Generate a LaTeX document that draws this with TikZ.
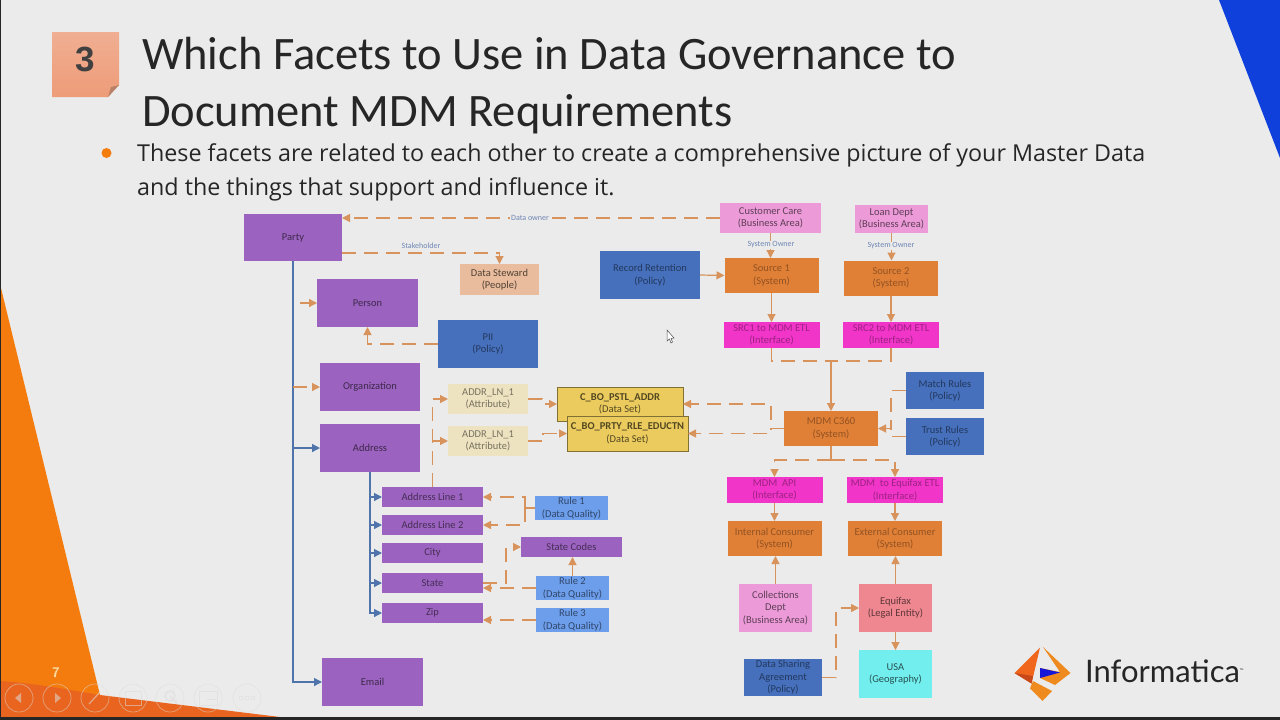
\documentclass[tikz,border=0pt]{standalone}
\usepackage{fontspec}
\setmainfont{Carlito}
\newfontfamily\slidefont{Open Sans}
\newfontfamily\logofont{Lato}
\newfontfamily\numfont{Liberation Sans}
\usetikzlibrary{positioning,arrows.meta}
\definecolor{slidebg}{HTML}{EBEBEB}
\definecolor{cornerorange}{HTML}{F47C0E}
\definecolor{cornerdark}{HTML}{E9651F}
\definecolor{cornerblue}{HTML}{1040DC}
\definecolor{numtop}{HTML}{F0AE92}
\definecolor{numbottom}{HTML}{EE9C78}
\definecolor{numfold}{HTML}{B98068}
\definecolor{navring}{HTML}{DCDCDC}
\definecolor{pagecolor}{HTML}{F8D9A0}
\definecolor{logoleft}{HTML}{F0661C}
\definecolor{logosliver}{HTML}{C9481A}
\definecolor{logoright}{HTML}{EE8A1E}
\definecolor{logoblue}{HTML}{1616D8}
\definecolor{linkorange}{HTML}{D8935C}
\definecolor{linkblue}{HTML}{4F74AC}
\definecolor{wordblue}{HTML}{6F86B4}
\definecolor{facetpurple}{HTML}{9B63BF}
\definecolor{facetpolicy}{HTML}{4670BC}
\definecolor{facetorange}{HTML}{E07F36}
\definecolor{facetpink}{HTML}{EC9BD8}
\definecolor{facetmagenta}{HTML}{F035C8}
\definecolor{facetpeach}{HTML}{E8BC9C}
\definecolor{facetcream}{HTML}{EDE3C0}
\definecolor{facetyellow}{HTML}{EBCB5E}
\definecolor{facetrule}{HTML}{6D9EEB}
\definecolor{facetlegal}{HTML}{EE8790}
\definecolor{facetgeo}{HTML}{72EEEE}
\tikzset{
  facet/.style={draw=none, outer sep=0pt, inner sep=0pt, align=center,
    font=\fontsize{10.5}{12.5}\selectfont},
  party/.style={facet, fill=facetpurple, text=black!60!facetpurple,
    minimum width=101pt, minimum height=48pt},
  subparty/.style={facet, fill=facetpurple, text=black!55!facetpurple,
    minimum width=101pt, minimum height=20pt},
  policy/.style={facet, fill=facetpolicy, text=black!50!facetpolicy,
    minimum width=100pt, minimum height=48pt},
  smallpolicy/.style={policy, minimum width=78pt, minimum height=37pt},
  system/.style={facet, fill=facetorange, text=black!35!facetorange,
    minimum width=94pt, minimum height=35pt},
  interface/.style={facet, fill=facetmagenta, text=black!35!facetmagenta,
    minimum width=96pt, minimum height=26pt},
  area/.style={facet, fill=facetpink, text=black!60!facetpink,
    minimum width=73pt, minimum height=28pt},
  attribute/.style={facet, fill=facetcream, text=black!50!facetcream,
    minimum width=80pt, minimum height=30pt},
  dataset/.style={facet, fill=facetyellow, draw=black!45!facetyellow, text=black!65!facetyellow,
    line width=.6pt},
  dqrule/.style={facet, fill=facetrule, text=black!55!facetrule,
    minimum width=73pt, minimum height=24pt},
  link/.style={draw=linkorange, line width=1.2pt, dash pattern=on 14pt off 8pt,
    -{Triangle[length=8pt,width=8pt,fill=linkorange]}},
  plainlink/.style={draw=linkorange, line width=1.2pt, dash pattern=on 14pt off 8pt},
  solidlink/.style={draw=linkorange, line width=1.2pt,
    -{Triangle[length=8pt,width=8pt,fill=linkorange]}},
  treelink/.style={draw=linkblue, line width=1.2pt,
    -{Triangle[length=8pt,width=8pt,fill=linkblue]}},
  linkword/.style={fill=slidebg, text=wordblue, inner sep=1pt, font=\fontsize{8}{9}\selectfont},
  navbutton/.style={circle, draw=navring, opacity=.5, line width=.7pt,
    minimum size=28pt, inner sep=0pt},
  navicon/.style={navring, opacity=.55},
}
\begin{document}
\begin{tikzpicture}[x=1pt, y=-1pt]
      \useasboundingbox (0,0) rectangle (1280,720);
      \fill[slidebg] (0,0) rectangle (1280,720);

      % slide furniture
      \fill[cornerorange] (1,288) -- (100,695) -- (100,716.5) -- (1,716.5) -- cycle;
      \fill[cornerdark] (1,681) .. controls (40,684) and (70,690) .. (100,695)
        -- (280,717) -- (1,717) -- cycle;
      \fill[black!85] (0,717) rectangle (1280,720);
      \fill[black!85] (0,0) rectangle (1,720);
      \fill[cornerblue] (1219,0) -- (1280,158) -- (1280,0) -- cycle;

      \shade[top color=numtop, bottom color=numbottom]
        (52,32) -- (119,32) -- (119,85) -- (108,97) -- (52,97) -- cycle;
      \fill[numfold] (119,85) -- (108,97) -- (111,87) -- cycle;
      \node[font=\numfont\bfseries\fontsize{35}{35}\selectfont, text=black!75] (num) at (85,59) {3};
      \node[anchor=west, inner sep=0pt, text=black!85,
        font=\fontsize{46.5}{48}\selectfont] (title1) at (142,54) {Which Facets to Use in Data Governance to};
      \node[anchor=west, inner sep=0pt, text=black!85,
        font=\fontsize{46.5}{48}\selectfont] (title2) at (142,114) {Document MDM Requirements};
      \fill[cornerorange] (106.5,153) circle (5pt);
      \node[anchor=west, inner sep=0pt, text=black!85,
        font=\slidefont\fontsize{23.3}{26}\selectfont] (body1) at (137,155)
        {These facets are related to each other to create a comprehensive picture of your Master Data};
      \node[anchor=west, inner sep=0pt, text=black!85,
        font=\slidefont\fontsize{23.3}{26}\selectfont] (body2) at (137,189)
        {and the things that support and influence it.};

      \node[anchor=west, inner sep=0pt, text=pagecolor,
        font=\sffamily\bfseries\fontsize{14}{14}\selectfont] (pagenum) at (52,673) {7};
      \foreach \navx in {19,57,95,133,170,208,247} {
        \node[navbutton] (nav\navx) at (\navx,698) {};
      }
      \fill[navicon] (15,698) -- (21,693) -- (21,703) -- cycle;
      \fill[navicon] (61,698) -- (55,693) -- (55,703) -- cycle;
      \draw[navicon, line width=1.3pt] (89,704) -- (100,692);
      \draw[navicon, line width=1pt] (125,691) rectangle (141,705);
      \draw[navicon, line width=1.5pt] (170,696) circle (5pt) -- (177,703);
      \draw[navicon, line width=1pt] (199,691) rectangle (217,705) (207,699) -- (217,699);
      \draw[navicon, line width=.8pt] (241,698) circle (2pt) (247,698) circle (2pt) (253,698) circle (2pt);

      % left tree
      \node[party, minimum width=98pt, minimum height=47pt] (party) at (293,237.5) {Party};
      \node[party] (person) at (367.5,303) {Person};
      \node[party, minimum width=100pt] (org) at (370,387) {Organization};
      \node[party, minimum width=100pt] (address) at (370,448) {Address};
      \node[party] (email) at (372.5,682) {Email};
      \node[facet, fill=facetpeach, text=black!65!facetpeach, minimum width=79pt, minimum height=31pt]
        (steward) at (499.5,279.5) {Data Steward\\(People)};
      \node[policy] (pii) at (488,344) {PII\\(Policy)};

      \node[subparty] (line1) at (432.5,497) {Address Line 1};
      \node[subparty, below=8pt of line1] (line2) {Address Line 2};
      \node[subparty, below=8pt of line2] (city) {City};
      \node[subparty, below=10pt of city] (state) {State};
      \node[subparty, below=10pt of state] (zip) {Zip};

      \node[dqrule] (rule1) at (571.5,508) {Rule 1\\(Data Quality)};
      \node[subparty] (codes) at (571.5,547) {State Codes};
      \node[dqrule] (rule2) at (572.5,588) {Rule 2\\(Data Quality)};
      \node[dqrule] (rule3) at (572.5,620) {Rule 3\\(Data Quality)};

      \node[attribute] (addr1) at (488,399) {ADDR\_LN\_1\\(Attribute)};
      \node[attribute, below=12pt of addr1] (addr2) {ADDR\_LN\_1\\(Attribute)};
      \node[dataset, minimum width=126pt, minimum height=34pt] (pstl) at (620,404)
        {\textbf{C\_BO\_PSTL\_ADDR}\\(Data Set)};
      \node[dataset, minimum width=121pt, minimum height=35pt] (prty) at (627.5,433.5)
        {\textbf{C\_BO\_PRTY\_RLE\_EDUCTN}\\(Data Set)};

      % right columns
      \node[area, minimum width=101pt, minimum height=30pt] (care) at (770.5,218) {Customer Care\\(Business Area)};
      \node[area] (loan) at (891.5,219) {Loan Dept\\(Business Area)};
      \node[policy] (retention) at (650,275) {Record Retention\\(Policy)};
      \node[system] (source1) at (771.5,275.5) {Source 1\\(System)};
      \node[system] (source2) at (891,278) {Source 2\\(System)};
      \node[interface] (src1) at (771.5,335) {SRC1 to MDM ETL\\(Interface)};
      \node[interface] (src2) at (891,335) {SRC2 to MDM ETL\\(Interface)};
      \node[system] (mdm) at (831,428.5) {MDM C360\\(System)};
      \node[smallpolicy] (match) at (945,390.5) {Match Rules\\(Policy)};
      \node[smallpolicy] (trust) at (945,436.5) {Trust Rules\\(Policy)};
      \node[interface] (api) at (774.5,490) {MDM\ \ API\\(Interface)};
      \node[interface] (etl) at (895,490) {MDM\ \ to Equifax ETL\\(Interface)};
      \node[system, below=18pt of api] (internal) {Internal Consumer\\(System)};
      \node[system, below=18pt of etl] (external) {External Consumer\\(System)};
      \node[area, minimum height=48pt] (collect) at (775.5,608) {Collections\\Dept\\(Business Area)};
      \node[area, fill=facetlegal, text=black!60!facetlegal, minimum height=48pt] (equifax) at (895.5,608)
        {Equifax\\(Legal Entity)};
      \node[area, fill=facetgeo, text=black!65!facetgeo, minimum height=48pt] (usa) at (895.5,674)
        {USA\\(Geography)};
      \node[smallpolicy] (sharing) at (783,677.5) {Data Sharing\\Agreement\\(Policy)};

      \coordinate (stake) at (342,253);
      \coordinate (srcjoin) at (831,361);
      \coordinate (outjoin) at (831,460);
      \coordinate (rulesjoin) at (891,428.5);
      \coordinate (dqjoin) at (525,508);
      \coordinate (personstub) at (300,303);

      \draw[treelink] (party.south) |- (email.west);
      \draw[treelink] (party.south |- address.west) -- (address.west);
      \draw[link] (personstub) -- (person.west);
      \draw[link] (party.south |- org.west) -- (org.west);
      \draw[link] (care.west) -- (care.west -| party.east);
      \node[linkword] (ownerword) at (530,218) {Data owner};
      \draw[link] (stake) -| (steward.north);
      \node[linkword, fill=none] (stakeword) at (421,246) {Stakeholder};
      \draw[link] (pii.west) -| (person.south);

      \draw[treelink] (address.south) |- (line1.west);
      \draw[treelink] (address.south) |- (line2.west);
      \draw[treelink] (address.south) |- (city.west);
      \draw[treelink] (address.south) |- (state.west);
      \draw[treelink] (address.south) |- (zip.west);

      \draw[link] (line1.north) |- (addr1.west);
      \draw[link] (line1.north) |- (addr2.west);
      \draw[link] (addr1.east) -- ++(14,0) |- (pstl.west);
      \draw[link] (addr2.east) -- ++(15,0) |- (prty.west);
      \draw[link] (mdm.west) -- ++(-13,0) |- (pstl.east);
      \draw[link] (mdm.west) -- ++(-13,0) |- (prty.east);

      \draw[plainlink] (rule1.west) -- (dqjoin);
      \draw[link] (dqjoin) |- (line1.east);
      \draw[link] (dqjoin) |- (line2.east);
      \draw[link] (state.east) -- ++(23,0) |- (codes.west);
      \draw[link] (rule2.west) -- (rule2.west -| state.east);
      \draw[link] (rule3.west) -- (rule3.west -| zip.east);
      \draw[solidlink] (rule2.north) -- (rule2.north |- codes.south);

      \draw[solidlink] (care.south) -- (care.south |- source1.north);
      \draw[solidlink] (loan.south) -- (loan.south |- source2.north);
      \node[linkword] (ownerword1) at (771,245) {System Owner};
      \node[linkword] (ownerword2) at (891,246) {System Owner};
      \draw[solidlink] (retention.east) -- (source1.west);
      \draw[solidlink] (source1.south) -- (src1.north);
      \draw[solidlink] (source2.south) -- (src2.north);
      \draw[plainlink] (src1.south) |- (srcjoin);
      \draw[plainlink] (src2.south) |- (srcjoin);
      \draw[solidlink] (srcjoin) -- (mdm.north);
      \draw[plainlink] (match.west) -| (rulesjoin);
      \draw[plainlink] (trust.west) -| (rulesjoin);
      \draw[solidlink] (rulesjoin) -- (mdm.east);
      \draw[draw=linkorange, line width=1.2pt] (mdm.south) -- (outjoin);
      \draw[link] (outjoin) -| (api.north);
      \draw[link] (outjoin) -| (etl.north);
      \draw[solidlink] (api.south) -- (internal.north);
      \draw[solidlink] (etl.south) -- (external.north);
      \draw[solidlink] (collect.north) -- (collect.north |- internal.south);
      \draw[solidlink] (equifax.north) -- (equifax.north |- external.south);
      \draw[solidlink] (equifax.south) -- (usa.north);
      \draw[link] (sharing.east) -- ++(14,0) |- (equifax.west);

      % pointer
      \draw[black!70, fill=white, line width=.5pt] (667,330) -- (667,341) -- (669.5,339) -- (671,343)
        -- (672.5,342) -- (671,338.5) -- (674,338) -- cycle;

      % logo
      \fill[logoleft] (1014.5,673) -- (1040,647.5) -- (1031.5,683.5) -- cycle;
      \fill[logosliver] (1014.5,673) -- (1033,676) -- (1031.5,683.5) -- cycle;
      \fill[logoright] (1043,647) -- (1070.5,673) -- (1055,685) -- (1040,678) -- (1040,668) -- (1060,672) -- cycle;
      \fill[logoright] (1033,681) -- (1052,691) -- (1042.5,701) -- (1030,688.5) -- cycle;
      \fill[logoblue] (1040,668) -- (1060,672.5) -- (1040,678) -- cycle;
      \node[anchor=west, inner sep=0pt, text=black!85,
        font=\logofont\fontsize{31}{31}\selectfont] (logotext) at (1085,671) {Informatica\raisebox{10pt}{\fontsize{5}{5}\selectfont ™}};
\end{tikzpicture}
\end{document}
